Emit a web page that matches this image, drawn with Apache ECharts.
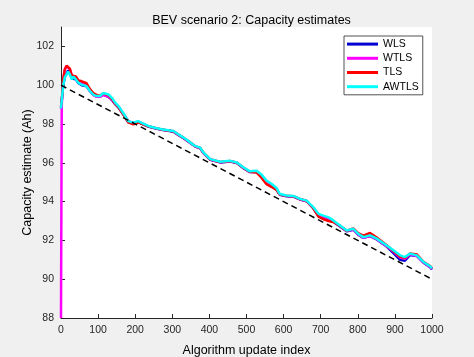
<!DOCTYPE html>
<html>
<head>
<meta charset="utf-8">
<script src="https://cdn.jsdelivr.net/npm/echarts@6/dist/echarts.min.js"></script>
<style>html,body{margin:0;padding:0;background:#f0f0f0;}#c{width:474px;height:357px;}</style>
</head>
<body>
<div id="c"></div>
<script>
var updateIndex = [0,2,6,10,15,19,24,29,33,40,47,56,60,69,78,87,96,105,114,119,128,137,146,155,164,173,181,195,208,222,235,253,271,289,303,316,330,343,361,375,384,402,429,456,474,492,509,527,541,554,568,581,590,608,626,644,662,680,694,707,721,734,752,770,788,801,815,833,851,878,896,914,927,941,959,977,995,1000];

var wls = [98.8,98.85,100.0,100.4,100.6,100.75,100.6,100.35,100.45,100.3,
100.1,100.0,100.1,99.95,99.7,99.5,99.42,99.4,99.52,99.55,
99.4,99.25,99.02,98.85,98.6,98.36,98.1,98.02,98.1,97.98,
97.87,97.78,97.7,97.65,97.6,97.44,97.27,97.1,96.85,96.75,
96.5,96.16,96.02,96.07,95.99,95.72,95.52,95.52,95.26,94.95,
94.8,94.62,94.35,94.28,94.26,94.11,94.02,93.66,93.25,93.12,
93.05,92.96,92.72,92.47,92.55,92.3,92.13,92.22,92.05,91.68,
91.35,91.0,90.95,91.25,91.2,90.85,90.62,90.5];

var wtls = [88.0,99.0,100.3,100.8,101.0,101.1,100.8,100.5,100.6,100.4,
100.2,100.1,100.2,100.0,99.7,99.5,99.4,99.4,99.5,99.55,
99.4,99.25,99.05,98.9,98.65,98.4,98.15,98.05,98.12,98.0,
97.88,97.8,97.71,97.66,97.62,97.45,97.28,97.1,96.85,96.75,
96.5,96.17,96.03,96.08,96.0,95.73,95.53,95.55,95.33,95.02,
94.86,94.65,94.36,94.29,94.27,94.12,94.02,93.68,93.3,93.2,
93.12,92.98,92.74,92.48,92.56,92.31,92.14,92.23,92.06,91.7,
91.42,91.12,91.05,91.28,91.2,90.86,90.63,90.52];

var tls = [98.9,99.2,100.3,100.8,101.0,101.05,100.85,100.5,100.6,100.45,
100.25,100.2,100.3,100.1,99.8,99.6,99.5,99.45,99.58,99.65,
99.48,99.3,99.05,98.87,98.6,98.35,98.08,97.98,98.08,97.98,
97.88,97.8,97.72,97.67,97.63,97.46,97.29,97.12,96.86,96.77,
96.52,96.18,96.04,96.09,96.0,95.74,95.54,95.5,95.22,94.9,
94.75,94.6,94.36,94.3,94.28,94.13,94.04,93.67,93.22,93.1,
93.0,92.95,92.76,92.5,92.62,92.38,92.25,92.38,92.15,91.75,
91.45,91.15,91.1,91.33,91.28,90.9,90.68,90.57];

var awtls = [98.8,98.9,100.0,100.4,100.55,100.7,100.55,100.3,100.45,100.3,
100.12,100.03,100.12,99.95,99.7,99.52,99.44,99.44,99.6,99.69,
99.52,99.35,99.1,98.92,98.67,98.41,98.15,98.07,98.15,98.02,
97.9,97.81,97.73,97.68,97.64,97.47,97.3,97.13,96.87,96.78,
96.53,96.19,96.05,96.1,96.02,95.76,95.56,95.59,95.38,95.08,
94.91,94.7,94.39,94.31,94.29,94.14,94.05,93.71,93.37,93.28,
93.19,93.03,92.77,92.51,92.6,92.34,92.17,92.26,92.09,91.74,
91.49,91.23,91.14,91.32,91.23,90.89,90.67,90.56];

var trueIndex = [0, 1000];
var trueCapacity = [100, 90];

var xTicks = [0,100,200,300,400,500,600,700,800,900,1000];
var yTicks = [88,90,92,94,96,98,100,102];

function pairs(xs, ys){ return xs.map(function(x,i){ return [x, ys[i]]; }); }

var FONT = 'Liberation Sans, Arial, Helvetica, sans-serif';
var AX = '#262626';

function lineSeries(name, data, color){
  return {name:name, type:'line', data:pairs(updateIndex, data), showSymbol:false, symbol:'none',
    lineStyle:{color:color, width:2.5}, itemStyle:{color:color}, clip:true, z:2};
}

var chart = echarts.init(document.getElementById('c'), null, {renderer:'canvas'});
chart.setOption({
  animation:false,
  backgroundColor:'#f0f0f0',
  title:{text:'BEV scenario 2: Capacity estimates', left:246.5, top:9, textAlign:'center',
    textStyle:{fontFamily:FONT, fontSize:12.5, fontWeight:'normal', color:'#000'}},
  grid:{left:61, right:42, top:27, bottom:39, show:true, backgroundColor:'#ffffff', borderWidth:0,
    outerBoundsMode:'none', containLabel:false},
  legend:{data:['WLS','WTLS','TLS','AWTLS'], orient:'vertical', left:344, top:36,
    backgroundColor:'#ffffff', borderColor:AX, borderWidth:0.8, padding:[1,4,1,3],
    itemGap:0, itemWidth:31, itemHeight:3, icon:'rect',
    textStyle:{fontFamily:FONT, fontSize:10.5, color:'#000', lineHeight:14.2}},
  xAxis:{type:'value', min:0, max:1000, interval:100,
    name:'Algorithm update index', nameLocation:'middle', nameGap:26, nameMoveOverlap:false,
    nameTextStyle:{fontFamily:FONT, fontSize:12.5, color:'#000'},
    axisLine:{show:true, onZero:false, lineStyle:{color:AX, width:1}},
    axisTick:{show:true, inside:true, length:4, lineStyle:{color:AX}, customValues:xTicks},
    axisLabel:{fontFamily:FONT, fontSize:10.5, color:AX, margin:7, customValues:xTicks,
      formatter:function(v){ return String(v); }},
    splitLine:{show:false}},
  yAxis:{type:'value', min:88, max:103, interval:2,
    name:'Capacity estimate (Ah)', nameLocation:'middle', nameGap:27, nameRotate:90, nameMoveOverlap:false,
    nameTextStyle:{fontFamily:FONT, fontSize:12.5, color:'#000'},
    axisLine:{show:true, onZero:false, lineStyle:{color:AX, width:1}},
    axisTick:{show:true, inside:true, length:4, lineStyle:{color:AX}, customValues:yTicks},
    axisLabel:{fontFamily:FONT, fontSize:10.5, color:AX, margin:7, customValues:yTicks,
      formatter:function(v){ return String(v); }},
    splitLine:{show:false}},
  series:[
    lineSeries('WLS', wls, '#0000d0'),
    lineSeries('WTLS', wtls, '#ff00ff'),
    lineSeries('TLS', tls, '#ff0000'),
    lineSeries('AWTLS', awtls, '#00ffff'),
    {name:'True', type:'line', data:pairs(trueIndex, trueCapacity), showSymbol:false, symbol:'none',
      lineStyle:{color:'#000', width:1.5, type:[6,4]}, z:3}
  ]
});
</script>
</body>
</html>
